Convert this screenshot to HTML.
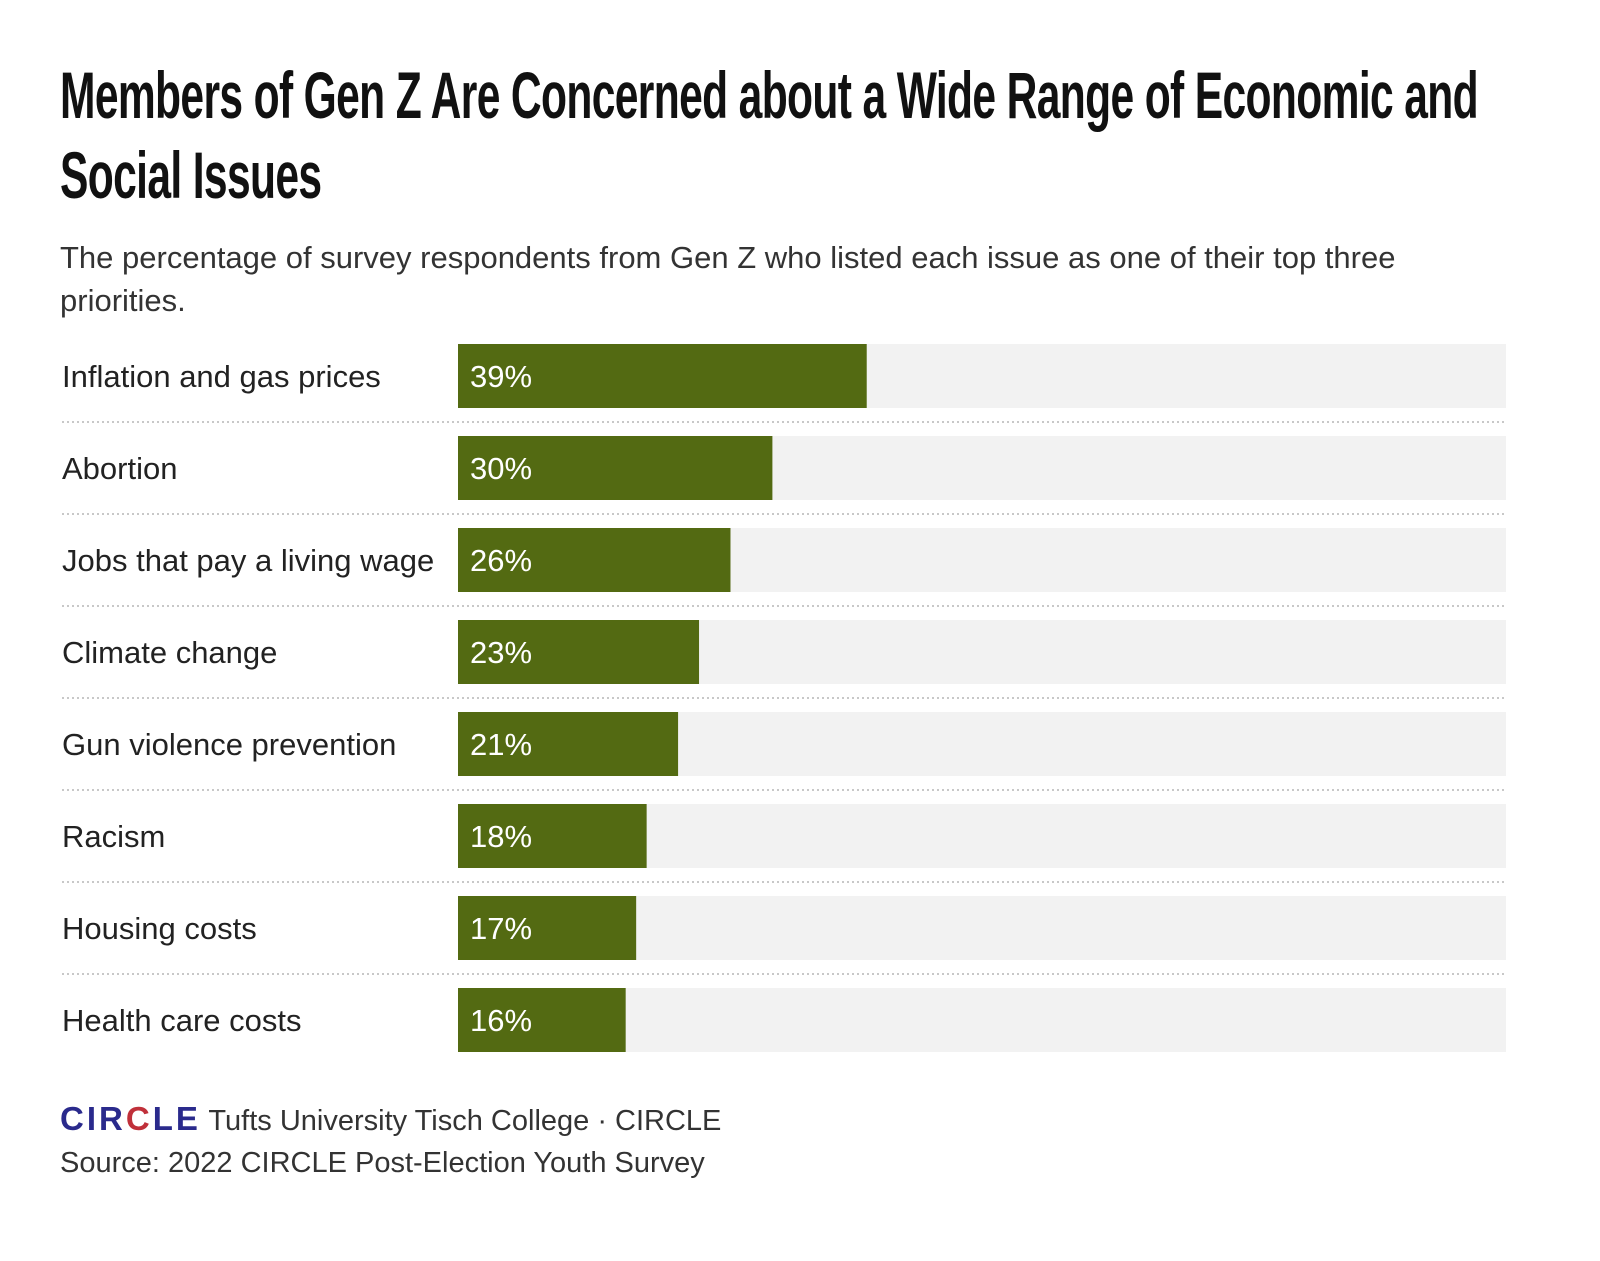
<!DOCTYPE html>
<html><head><meta charset="utf-8"><style>
html,body{margin:0;padding:0;background:#fff;width:1600px;height:1261px;overflow:hidden}
body{font-family:"Liberation Sans",sans-serif;color:#222;position:relative}
.tl{position:absolute;left:60px;font-family:"Liberation Sans",sans-serif;font-weight:bold;font-size:66px;line-height:66px;color:#111;white-space:nowrap;transform-origin:0 0;letter-spacing:-1px}
.sub{position:absolute;left:60px;top:236px;font-size:31px;line-height:43px;color:#333;width:1440px}
.foot{position:absolute;left:60px;font-size:29px;color:#333;white-space:nowrap}
</style></head><body>
<div class="tl" id="t1" style="top:62px">Members of Gen Z Are Concerned about a Wide Range of Economic and</div>
<div class="tl" id="t2" style="top:142px">Social Issues</div>
<div class="sub">The percentage of survey respondents from Gen Z who listed each issue as one of their top three priorities.</div>
<svg id="chart" width="1600" height="1261" style="position:absolute;left:0;top:0"></svg>
<div class="foot" style="top:1100px"><span style="font-weight:bold;color:#2a2a8c;font-size:33px;letter-spacing:3px">CIR<span style="color:#c0303a">C</span>LE</span> Tufts University Tisch College · CIRCLE</div>
<div class="foot" style="top:1147px">Source: 2022 CIRCLE Post-Election Youth Survey</div>
<script>
const categories=["Inflation and gas prices","Abortion","Jobs that pay a living wage","Climate change","Gun violence prevention","Racism","Housing costs","Health care costs"];
const values=[39,30,26,23,21,18,17,16];
const valueLabels=["39%","30%","26%","23%","21%","18%","17%","16%"];
const NS="http://www.w3.org/2000/svg";
const svg=document.getElementById('chart');
const x0=458,x1=1506,y0=344,step=92,bh=64;
const xs=v=>x0+(x1-x0)*v/100;
const ys=i=>y0+i*step;
function mk(t,a){const e=document.createElementNS(NS,t);for(const k in a)e.setAttribute(k,a[k]);svg.appendChild(e);return e;}
categories.forEach((c,i)=>{
  const y=ys(i);
  const tr=mk('rect',{x:x0,y:y,width:x1-x0,height:bh,fill:'#f2f2f2'});
  
  
  const b=mk('rect',{x:x0,y:y,width:xs(values[i])-x0,height:bh,fill:'#536a12'});
  
  
  const l=mk('text',{x:62,y:y+bh/2+11,'font-size':31,fill:'#222','font-family':'Liberation Sans, sans-serif'});
  l.textContent=c;
  
  
  const v=mk('text',{x:x0+12,y:y+bh/2+11,'font-size':31,fill:'#fff','font-family':'Liberation Sans, sans-serif'});
  v.textContent=valueLabels[i];
  
  
  if(i<categories.length-1){
    const s=mk('line',{x1:62,x2:x1,y1:y+bh+14,y2:y+bh+14,stroke:'#c8c8c8','stroke-width':2,'stroke-dasharray':'2,3'});
    
    
  }
});
const t1=document.getElementById('t1'),t2=document.getElementById('t2');
const sc=1418/t1.getBoundingClientRect().width;
t1.style.transform='scaleX('+sc+')';
t2.style.transform='scaleX('+sc+')';
</script>
</body></html>
